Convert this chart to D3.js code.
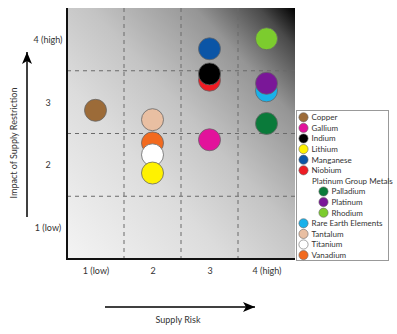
<!DOCTYPE html>
<html><head><meta charset="utf-8">
<script src="https://cdn.jsdelivr.net/npm/d3@7"></script>
<style>
html,body{margin:0;padding:0;background:#fff;}
svg{display:block;font-family:Lato,"Open Sans",sans-serif;}
</style></head>
<body>
<svg id="chart" width="397" height="334"></svg>
<script>
// Data
const elements = ["Copper","Gallium","Indium","Lithium","Manganese","Niobium","Palladium","Platinum","Rhodium","Rare Earth Elements","Tantalum","Titanium","Vanadium"];
const colors   = ["#9c6b38","#e2139b","#000000","#fff200","#0b55a6","#ee1c24","#0a7a3a","#7a1798","#7ccc2e","#19b1ea","#e9bfa2","#ffffff","#f26a1f"];
const supplyRisk = [1, 3, 3, 2, 3, 3, 4, 4, 4, 4, 2, 2, 2];
const impact     = [2.87, 2.40, 3.45, 1.87, 3.85, 3.35, 2.66, 3.30, 4.01, 3.18, 2.72, 2.16, 2.35];
const drawOrder  = ["Copper","Tantalum","Vanadium","Titanium","Lithium","Manganese","Niobium","Indium","Gallium","Rhodium","Rare Earth Elements","Platinum","Palladium"];
const xTicks = [1,2,3,4];
const xTickLabels = ["1 (low)","2","3","4 (high)"];
const yTicks = [1,2,3,4];
const yTickLabels = ["1 (low)","2","3","4 (high)"];
const gridValues = [1.5,2.5,3.5];
const legendItems = [
  {label:"Copper", el:"Copper", indent:0},
  {label:"Gallium", el:"Gallium", indent:0},
  {label:"Indium", el:"Indium", indent:0},
  {label:"Lithium", el:"Lithium", indent:0},
  {label:"Manganese", el:"Manganese", indent:0},
  {label:"Niobium", el:"Niobium", indent:0},
  {label:"Platinum Group Metals", el:null, indent:0},
  {label:"Palladium", el:"Palladium", indent:1},
  {label:"Platinum", el:"Platinum", indent:1},
  {label:"Rhodium", el:"Rhodium", indent:1},
  {label:"Rare Earth Elements", el:"Rare Earth Elements", indent:0},
  {label:"Tantalum", el:"Tantalum", indent:0},
  {label:"Titanium", el:"Titanium", indent:0},
  {label:"Vanadium", el:"Vanadium", indent:0}
];

(function(){
const data = elements.map((e,i)=>({name:e,color:colors[i],x:supplyRisk[i],y:impact[i]}));
const byName = Object.fromEntries(data.map(d=>[d.name,d]));

const svg = d3.select("#chart");
const pL=67, pR=295, pT=8, pB=259;
const x = d3.scaleLinear().domain([0.5,4.5]).range([pL,pR]);
const y = d3.scaleLinear().domain([0.5,4.5]).range([pB,pT]);

const defs = svg.append("defs");
const grad = defs.append("linearGradient").attr("id","bg")
  .attr("x1","0").attr("y1","1").attr("x2","1").attr("y2","0");
[[0,"#f4f4f4"],[0.35,"#dcdcdc"],[0.55,"#c4c4c4"],[0.78,"#959595"],[0.92,"#4a4a4a"],[1,"#000"]]
  .forEach(([o,c])=>grad.append("stop").attr("offset",o).attr("stop-color",c));

svg.append("rect").attr("x",pL).attr("y",pT).attr("width",pR-pL).attr("height",pB-pT)
  .attr("fill","url(#bg)");

// grid
svg.append("g").selectAll("line").data(gridValues).join("line")
  .attr("x1",d=>x(d)).attr("x2",d=>x(d)).attr("y1",pT).attr("y2",pB)
  .attr("stroke","#6a6a6a").attr("stroke-width",1).attr("stroke-dasharray","4,4");
svg.append("g").selectAll("line").data(gridValues).join("line")
  .attr("y1",d=>y(d)).attr("y2",d=>y(d)).attr("x1",pL).attr("x2",pR)
  .attr("stroke","#6a6a6a").attr("stroke-width",1).attr("stroke-dasharray","4,4");

// axis lines
svg.append("path").attr("d",`M${pL},${pT}V${pB}H${pR}`)
  .attr("fill","none").attr("stroke","#111").attr("stroke-width",2);

// axes
const xAxis = svg.append("g").attr("transform",`translate(0,${pB})`)
  .call(d3.axisBottom(x).tickValues(xTicks).tickFormat((d,i)=>xTickLabels[i]).tickSize(0).tickPadding(9));
xAxis.select(".domain").remove();
xAxis.selectAll("text").attr("font-size",9).attr("fill","#333").attr("font-family","Lato,sans-serif");

const yAxis = svg.append("g").attr("transform",`translate(${pL},0)`)
  .call(d3.axisLeft(y).tickValues(yTicks).tickFormat((d,i)=>yTickLabels[i]).tickSize(0));
yAxis.select(".domain").remove();
yAxis.selectAll("text").attr("x",-19).attr("text-anchor","middle")
  .attr("font-size",9).attr("fill","#333").attr("font-family","Lato,sans-serif");

// points
svg.append("g").selectAll("circle").data(drawOrder.map(n=>byName[n])).join("circle")
  .attr("cx",d=>x(d.x)).attr("cy",d=>y(d.y)).attr("r",11)
  .attr("fill",d=>d.color).attr("stroke","#666").attr("stroke-width",0.8);

// arrows
defs.append("marker").attr("id","arr").attr("viewBox","0 0 12 10").attr("refX",12).attr("refY",5)
  .attr("markerWidth",12).attr("markerHeight",10).attr("markerUnits","userSpaceOnUse").attr("orient","auto")
  .append("path").attr("d","M0,0L12,5L0,10L3,5Z").attr("fill","#000");
svg.append("line").attr("x1",27).attr("y1",217).attr("x2",27).attr("y2",52)
  .attr("stroke","#000").attr("stroke-width",1.5).attr("marker-end","url(#arr)");
svg.append("line").attr("x1",105).attr("y1",307).attr("x2",255).attr("y2",307)
  .attr("stroke","#000").attr("stroke-width",1.5).attr("marker-end","url(#arr)");

svg.append("text").attr("transform","translate(15,143) rotate(-90)").attr("text-anchor","middle")
  .attr("dominant-baseline","middle").attr("font-size",9).attr("fill","#333").text("Impact of Supply Restriction");
svg.append("text").attr("x",178).attr("y",323).attr("text-anchor","middle")
  .attr("font-size",9).attr("fill","#333").text("Supply Risk");

// legend
const lg = svg.append("g");
lg.append("rect").attr("x",296.5).attr("y",110.5).attr("width",92).attr("height",150)
  .attr("fill","#fff").attr("stroke","#999").attr("stroke-width",1);
const ly0 = 117.3, lstep = 10.6;
const rows = lg.selectAll("g.row").data(legendItems).join("g").attr("class","row")
  .attr("transform",(d,i)=>`translate(${d.indent?20:0},${ly0+i*lstep})`);
rows.filter(d=>d.el).append("circle").attr("cx",303.5).attr("cy",0).attr("r",4.6)
  .attr("fill",d=>byName[d.el].color).attr("stroke","#666").attr("stroke-width",0.6);
rows.append("text").attr("x",d=>d.el?311.5:312).attr("y",0).attr("dy","0.35em")
  .attr("font-size",8).attr("fill","#333").text(d=>d.label);
})();
</script>
</body></html>
